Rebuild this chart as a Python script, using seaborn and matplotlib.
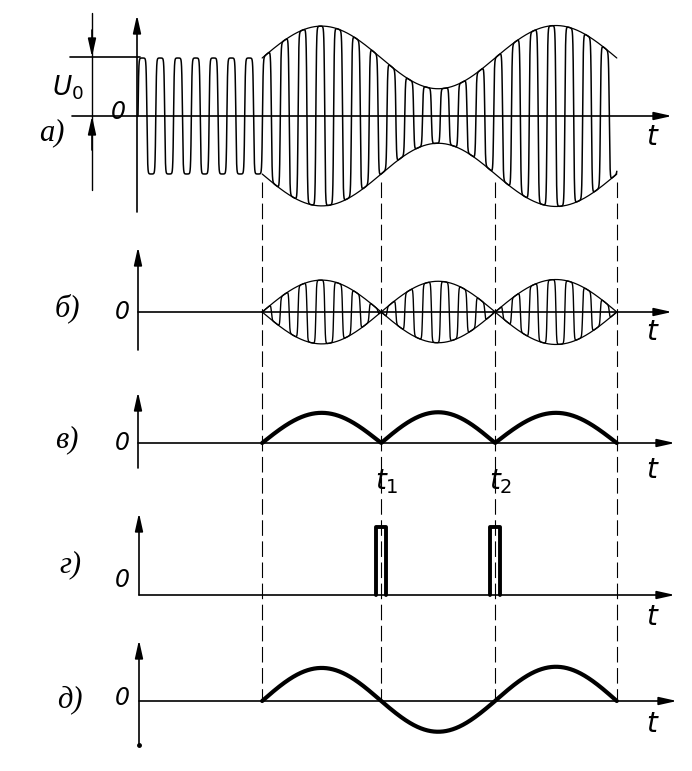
import numpy as np
import pandas as pd
import seaborn as sns
from matplotlib import pyplot as plt

# time axis (arbitrary units): beats start, moments t1, t2, beats end
t_nodes = [3.63, 7.11, 10.44, 14.0]
t_marks = [r'$t_1$', r'$t_2$']
carrier_period = 0.52

# a) reference voltage U0 plus beats, sign of the addition per segment
u0 = 1.0
beat_sign = [1, -1, 1]
# b) beat amplitude per segment
beat_amp = [0.55, 0.53, 0.56]
# c) detector output, arc peaks
det_peak = [0.52, 0.53, 0.52]
# d) pulses at t1, t2
pulse_times = [t_nodes[1], t_nodes[2]]
pulse_height = 1.17
pulse_width = 0.3
# e) output signal, half-wave peaks
out_peak = [0.57, -0.53, 0.59]

panel_names = ['а)', 'б)', 'в)', 'г)', 'д)']

# layout: pixel scale of the drawing
W, H = 692, 771
X0 = 138          # pixel column of t = 0
PX_T = 34.2       # pixels per time unit
PX_A = 58.0       # pixels per amplitude unit
base_px = [116, 312, 443, 595, 701]


def px(x, y):
    return (x - X0) / PX_T, -y / PX_A


base = [-b / PX_A for b in base_px]

sns.set_style('white')
fig = plt.figure(figsize=(W / 100, H / 100), dpi=100)
ax = fig.add_axes([0, 0, 1, 1])
ax.set_xlim(px(0, 0)[0], px(W, 0)[0])
ax.set_ylim(-H / PX_A, 0)
ax.axis('off')

INK = 'black'


def line(x, y, lw=1.0, **kw):
    d = pd.DataFrame({'x': x, 'y': y})
    sns.lineplot(data=d, x='x', y='y', ax=ax, color=INK, lw=lw, sort=False,
                 estimator=None, legend=False, **kw)


def arrow(x0, y0, x1, y1, lw=1.2):
    ax.annotate('', xy=px(x1, y1), xytext=px(x0, y0),
                arrowprops=dict(arrowstyle='-|>,head_length=0.9,head_width=0.2',
                                color=INK, lw=lw, shrinkA=0, shrinkB=0,
                                mutation_scale=12))


def arcs(t, peaks):
    out = np.zeros_like(t)
    for k, h in enumerate(peaks):
        ta, tb = t_nodes[k], t_nodes[k + 1]
        m = (t >= ta) & (t <= tb)
        out[m] = h * np.sin(np.pi * (t[m] - ta) / (tb - ta))
    return out


t = np.linspace(0, t_nodes[-1], 24000)
carrier = np.tanh(4 * np.sin(2 * np.pi * t / carrier_period)) / np.tanh(4)

# ---- a) ----
env_a = u0 + arcs(t, [s * a for s, a in zip(beat_sign, beat_amp)])
line(t, base[0] + env_a * carrier, lw=1.1)
m = t >= t_nodes[0]
line(t[m], base[0] + env_a[m], lw=0.9)
line(t[m], base[0] - env_a[m], lw=0.9)

# ---- b) ----
tb = t[t >= t_nodes[0]]
env_b = arcs(tb, beat_amp)
line(tb, base[1] + env_b * np.tanh(4 * np.sin(2 * np.pi * tb / carrier_period)) / np.tanh(4), lw=1.0)
line(tb, base[1] + env_b, lw=0.9)
line(tb, base[1] - env_b, lw=0.9)

# ---- c) ----
line(tb, base[2] + arcs(tb, det_peak), lw=3.0)

# ---- d) ----
for tp in pulse_times:
    xs = [tp - pulse_width / 2, tp - pulse_width / 2, tp + pulse_width / 2, tp + pulse_width / 2]
    ys = [base[3], base[3] + pulse_height, base[3] + pulse_height, base[3]]
    line(xs, ys, lw=2.8)

# ---- e) ----
line(tb, base[4] + arcs(tb, out_peak), lw=3.0)

# dashed guides through all panels
for tn in t_nodes:
    ax.plot([tn, tn], [px(0, 182)[1], base[4]], color=INK, lw=0.8,
            ls=(0, (14, 5)))

# axes: vertical arrows
v_axes = [(137, 212, 15), (138, 350, 247), (138, 468, 392), (139, 595, 513), (139, 745, 640)]
for x, yb, yt in v_axes:
    arrow(x, yb, x, yt)
ax.plot(*px(139, 745), 'o', color=INK, ms=2.5)

# axes: horizontal arrows
h_axes = [(72, 116, 672), (138, 312, 672), (138, 443, 675), (139, 595, 675), (139, 701, 677)]
for x, y, xe in h_axes:
    arrow(x, y, xe, y)

# U0 dimension
ax.plot(*zip(px(70, 57), px(140, 57)), color=INK, lw=1.2)
ax.plot(*zip(px(92, 13), px(92, 190)), color=INK, lw=1.0)
arrow(92, 30, 92, 57)
arrow(92, 150, 92, 116)

# text
tfont = dict(family='DejaVu Sans', style='italic', color=INK)
lfont = dict(family='Liberation Serif', style='italic', color=INK)
ax.text(*px(68, 88), r'$U_{\mathit{0}}$', fontsize=19, ha='center', va='center', color=INK)
for (x, y), name in zip([(52, 133), (67, 308), (67, 440), (70, 565), (70, 700)], panel_names):
    ax.text(*px(x, y), name, fontsize=22, ha='center', va='center', **lfont)
for x, y in [(118, 112), (122, 312), (122, 443), (122, 580), (122, 698)]:
    ax.text(*px(x, y), '0', fontsize=17, ha='center', va='center', **tfont)
for x, y in [(652, 137), (652, 332), (652, 470), (652, 617), (652, 724)]:
    ax.text(*px(x, y), 't', fontsize=20, ha='center', va='center', **tfont)
for tn, lab in zip(t_nodes[1:3], t_marks):
    ax.text(tn + 0.15, px(0, 482)[1], lab, fontsize=20, ha='center', va='center', color=INK)

fig.savefig('out.png', dpi=100, facecolor='white')
